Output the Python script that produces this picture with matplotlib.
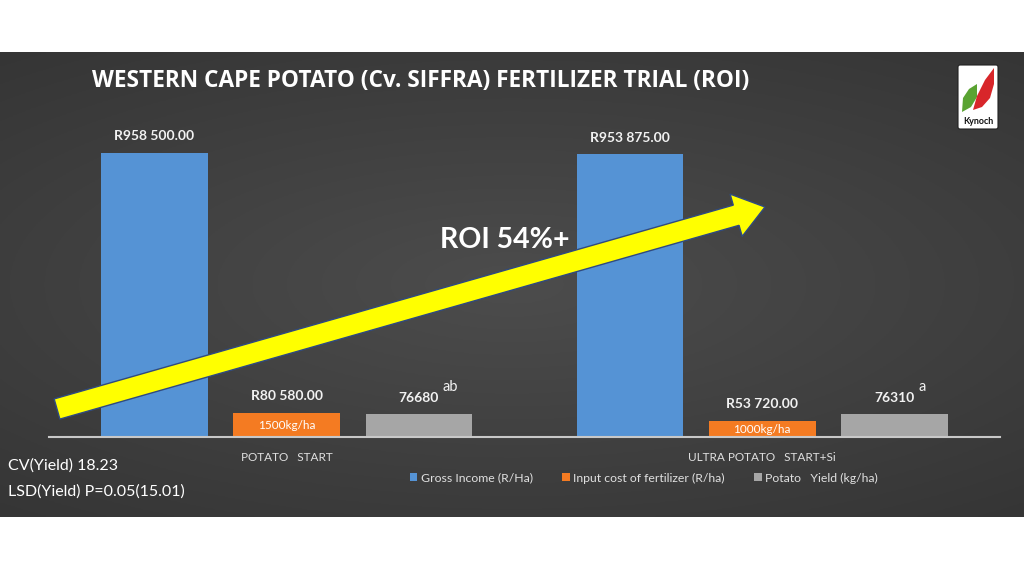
import numpy as np
import matplotlib
matplotlib.use("Agg")
import matplotlib.pyplot as plt
import matplotlib.patches as mpatches

# data
categories = ["POTATO   START", "ULTRA POTATO   START+Si"]
gross_income = [958500, 953875]
input_cost = [80580, 53720]
potato_yield = [76680, 76310]
yield_letters = ["ab", "a"]
rates = ["1500kg/ha", "1000kg/ha"]
series_names = ["Gross Income (R/Ha)", "Input cost of fertilizer (R/ha)", "Potato   Yield (kg/ha)"]

W, H = 1024, 576
BLUE = "#5593d5"
ORANGE = "#f47b22"
GREY = "#a6a6a6"
TXT = "#f2f2f2"

plt.rcParams['font.family'] = ['Lato', 'DejaVu Sans']

fig = plt.figure(figsize=(W / 100, H / 100), dpi=100)
fig.patch.set_facecolor("white")

def px_box(x0, y0, x1, y1):
    # pixel box (top-left origin) -> figure fraction
    return [x0 / W, 1 - y1 / H, (x1 - x0) / W, (y1 - y0) / H]

# dark panel with a soft gradient
bg = fig.add_axes(px_box(0, 52, W, 517))
yy, xx = np.mgrid[-1:1:200j, -1:1:400j]
r = np.sqrt((xx * 0.9) ** 2 + (yy * 1.1) ** 2)
shade = 0.30 - 0.09 * np.clip(r, 0, 1.4) / 1.4
bg.imshow(np.dstack([shade, shade, shade]), aspect="auto", extent=[0, 1, 0, 1])
bg.axis("off")

# bar axes
ax = fig.add_axes(px_box(49, 100, 1000, 437))
ax.patch.set_alpha(0)
x = np.arange(len(categories))
bw = 0.224
off = 0.278
b1 = ax.bar(x - off, gross_income, bw, color=BLUE, zorder=2)
b2 = ax.bar(x, input_cost, bw, color=ORANGE, zorder=2)
b3 = ax.bar(x + off, potato_yield, bw, color=GREY, zorder=2)
ax.set_xlim(-0.5, 1.5)
ax.set_ylim(0, 958500 * (437 - 100) / (437 - 153))
for s in ["top", "right", "left"]:
    ax.spines[s].set_visible(False)
ax.spines["bottom"].set_color("#c8c8c8")
ax.spines["bottom"].set_linewidth(1.5)
ax.set_yticks([])
ax.set_xticks(x)
ax.set_xticklabels(categories, fontsize=8.5, color="#e0e0e0")
ax.tick_params(axis="x", length=0, pad=11)

for i in range(len(categories)):
    inc = f"R{gross_income[i]:,.2f}".replace(",", " ")
    cost = f"R{input_cost[i]:,.2f}".replace(",", " ")
    ax.annotate(inc, (x[i] - off, gross_income[i]), xytext=(0, 12), textcoords="offset points",
                ha="center", va="center", color=TXT, fontsize=10, fontweight="bold")
    ax.annotate(cost, (x[i], input_cost[i]), xytext=(0, 12), textcoords="offset points",
                ha="center", va="center", color=TXT, fontsize=10, fontweight="bold")
    ax.annotate(str(potato_yield[i]), (x[i] + off, potato_yield[i]), xytext=(0, 12),
                textcoords="offset points", ha="center", va="center", color=TXT,
                fontsize=10, fontweight="bold")
    ax.annotate(yield_letters[i], (x[i] + off, potato_yield[i]), xytext=(17, 20),
                textcoords="offset points", ha="left", va="center", color=TXT, fontsize=10.5)
    ax.text(x[i], input_cost[i] / 2, rates[i], ha="center", va="center",
            color="white", fontsize=8.5)

leg = fig.legend([b1, b2, b3], series_names, loc="center", bbox_to_anchor=(644 / W, 1 - 478 / H),
                 ncol=3, frameon=False, fontsize=8.8, handlelength=0.6, handleheight=0.6,
                 handletextpad=0.3, columnspacing=2.4, labelcolor="#e0e0e0")

# overlay in pixel coordinates for title, arrow, notes, logo
ov = fig.add_axes([0, 0, 1, 1])
ov.set_xlim(0, W)
ov.set_ylim(H, 0)
ov.patch.set_alpha(0)
ov.axis("off")

ov.text(92, 81, "WESTERN CAPE POTATO (Cv. SIFFRA) FERTILIZER TRIAL (ROI)", ha="left", va="center",
        color="white", fontsize=16.3, fontweight="bold", family=["Open Sans", "DejaVu Sans"])

arrow = mpatches.FancyArrow(57, 409, 708, -202, width=21, head_width=44, head_length=30,
                            length_includes_head=True, facecolor="#ffff00",
                            edgecolor="#2f4a80", linewidth=1.0, zorder=5)
ov.add_patch(arrow)
ov.text(440, 240, "ROI 54%+", ha="left", va="center", color="white", fontsize=20.5, fontweight="bold")

ov.text(8, 466, "CV(Yield) 18.23", ha="left", va="center", color="white", fontsize=11.5)
ov.text(8, 492, "LSD(Yield) P=0.05(15.01)", ha="left", va="center", color="white", fontsize=11.5)

# Kynoch logo
ov.add_patch(mpatches.FancyBboxPatch((958, 65), 40, 64, boxstyle="round,pad=0,rounding_size=2",
                                     facecolor="white", edgecolor="#222222", linewidth=0.8))
ov.add_patch(mpatches.Polygon([(962, 112), (963, 98), (969, 89), (977, 84), (977, 97), (971, 107)],
                              closed=True, facecolor="#5aa332", edgecolor="none"))
ov.add_patch(mpatches.Polygon([(973, 110), (977, 96), (985, 80), (994, 68), (994, 84), (990, 98),
                               (982, 107)], closed=True, facecolor="#d8262a", edgecolor="none"))
ov.text(978, 121, "Kynoch", ha="center", va="center", color="#111111", fontsize=6.5, fontweight="bold")

fig.savefig("out.png", dpi=100, facecolor=fig.get_facecolor())
